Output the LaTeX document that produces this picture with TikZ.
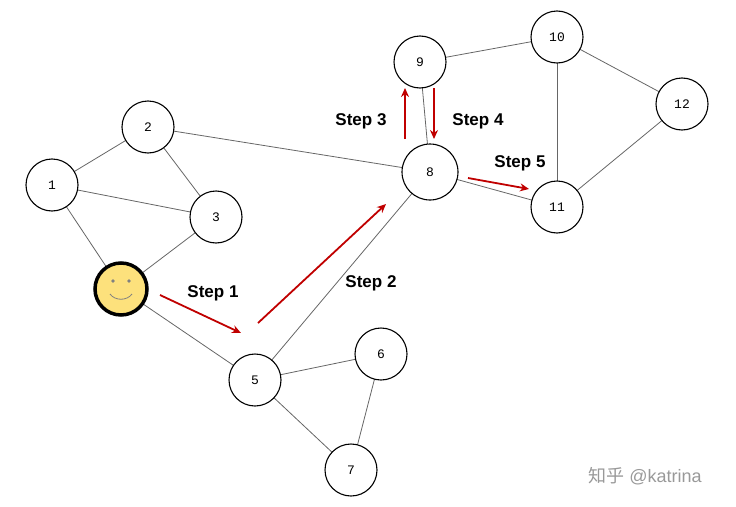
\documentclass[tikz,border=0pt]{standalone}
\usepackage{fontspec}
\setmainfont{Liberation Sans}
\newfontfamily\monof{Liberation Mono}
\newfontfamily\cjk{Noto Sans CJK SC}
\usetikzlibrary{arrows.meta}
\definecolor{stepred}{RGB}{192,0,0}
\begin{document}
\begin{tikzpicture}[x=1pt,y=-1pt,
  nd/.style={circle,draw=black,line width=1.1pt,fill=white,minimum size=52pt,inner sep=0pt,font=\monof\fontsize{13}{15}\selectfont},
  edge/.style={draw=black!60,line width=0.8pt},
  stepar/.style={draw=stepred,line width=1.8pt,-{Stealth[length=9pt,width=8pt]}},
  lbl/.style={font=\bfseries\fontsize{17}{20}\selectfont}]
\useasboundingbox (0,0) rectangle (736,506);
\foreach \a/\b/\c/\d in {52/185/148/127,52/185/216/217,52/185/121/289,148/127/216/217,148/127/430/172,216/217/121/289,121/289/255/380,255/380/430/172,255/380/381/354,255/380/351/470,381/354/351/470,430/172/420/62,430/172/557/207,420/62/557/37,557/37/557/207,557/37/682/104,557/207/682/104}
  \draw[edge] (\a,\b) -- (\c,\d);
\node[nd] (n1) at (52,185) {1};
\node[nd] (n2) at (148,127) {2};
\node[nd] (n3) at (216,217) {3};
\node[circle,draw=black,line width=3.5pt,fill=yellow!60!orange!50,minimum size=52pt] (s) at (121,289) {};
\node[nd] (n5) at (255,380) {5};
\node[nd] (n6) at (381,354) {6};
\node[nd] (n7) at (351,470) {7};
\node[nd,minimum size=56pt] (n8) at (430,172) {8};
\node[nd] (n9) at (420,62) {9};
\node[nd] (n10) at (557,37) {10};
\node[nd] (n11) at (557,207) {11};
\node[nd] (n12) at (682,104) {12};
\fill[black!50] (113,281) circle (1.8pt) (129,281) circle (1.8pt);
\draw[black!50,line width=0.8pt] (110,294) .. controls (115,301) and (127,301) .. (132,294);
\coordinate (a1) at (160,295); \coordinate (b1) at (241,333);
\coordinate (a2) at (258,323); \coordinate (b2) at (386,204);
\coordinate (a3) at (405,139); \coordinate (b3) at (405,88);
\coordinate (a4) at (434,88); \coordinate (b4) at (434,139);
\coordinate (a5) at (468,178); \coordinate (b5) at (529,189);
\draw[stepar] (a1) -- (b1);
\draw[stepar] (a2) -- (b2);
\draw[stepar] (a3) -- (b3);
\draw[stepar] (a4) -- (b4);
\draw[stepar] (a5) -- (b5);
\node[lbl] (l1) at (213,293) {Step 1};
\node[lbl] (l2) at (371,283) {Step 2};
\node[lbl] (l3) at (361,121) {Step 3};
\node[lbl] (l4) at (478,121) {Step 4};
\node[lbl] (l5) at (520,163) {Step 5};
\node[text=black!40,font=\fontsize{18}{22}\selectfont] (wm) at (645,476) {{\cjk 知乎} @katrina};
\end{tikzpicture}
\end{document}
